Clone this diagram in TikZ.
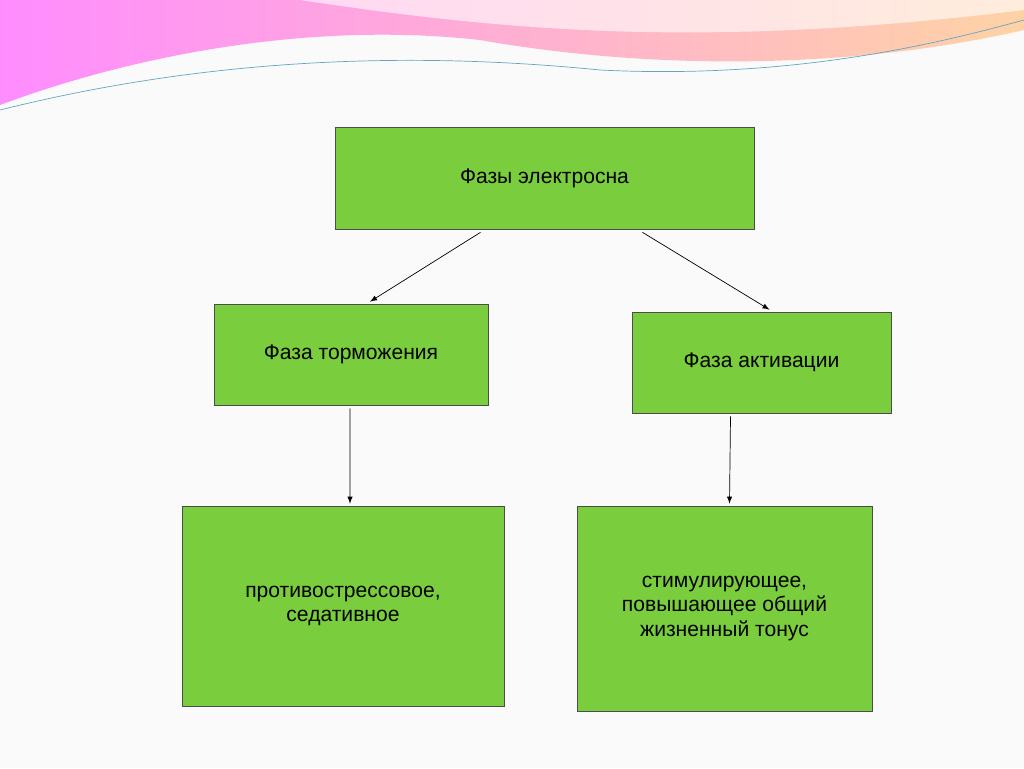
\documentclass[tikz,border=0pt]{standalone}
\usepackage{fontspec}
\setmainfont{Liberation Sans}
\tikzset{
  phase/.style={draw=black!70, fill=phasegreen, align=center, font=\large, inner sep=0pt},
  link/.style={-latex, thin}
}
\definecolor{phasegreen}{RGB}{122,206,62}
\begin{document}
\begin{tikzpicture}[x=0.02cm, y=-0.02cm]
\useasboundingbox (0,0) rectangle (1024,768);
\fill[gray!4] (0,0) rectangle (1024,768);
% top ribbon
\shade[left color=magenta!45!white, right color=orange!35!white]
  (0,0) -- (1024,0) -- (1024,30) .. controls (850,70) and (650,70) .. (480,40)
  .. controls (300,20) and (120,60) .. (0,105) -- cycle;
\fill[white, opacity=0.6] (300,0) .. controls (500,30) and (700,50) .. (1024,10)
  -- (1024,0) -- cycle;
\draw[cyan!50!gray, thin] (0,110) .. controls (200,60) and (400,50) .. (600,70)
  .. controls (800,80) and (950,40) .. (1024,20);

% boxes
\node[phase, minimum width=8.38cm, minimum height=2.04cm] (sleep) at (544.5,178) {Фазы электросна};
\node[phase, minimum width=5.48cm, minimum height=2.02cm] (brake) at (351,354.5) {Фаза торможения};
\node[phase, minimum width=5.18cm, minimum height=2.02cm] (active) at (761.5,362.5) {Фаза активации};
\node[phase, minimum width=6.44cm, minimum height=4cm] (calm) at (343,606) {противострессовое,\\седативное};
\node[phase, minimum width=5.9cm, minimum height=4.1cm] (tonus) at (724.5,608.5) {стимулирующее,\\повышающее общий\\жизненный тонус};

% links
\draw[link] ([xshift=-1.28cm, yshift=-0.06cm]sleep.south) -- ([xshift=0.38cm, yshift=0.04cm]brake.north);
\draw[link] ([xshift=1.96cm, yshift=-0.06cm]sleep.south) -- ([xshift=0.16cm, yshift=0.04cm]active.north);
\draw[link] ([xshift=-0.02cm, yshift=-0.06cm]brake.south) -- ([xshift=0.14cm, yshift=0.04cm]calm.north);
\draw[link] ([xshift=-0.62cm, yshift=-0.06cm]active.south) -- ([xshift=0.1cm, yshift=0.04cm]tonus.north);
\end{tikzpicture}
\end{document}
